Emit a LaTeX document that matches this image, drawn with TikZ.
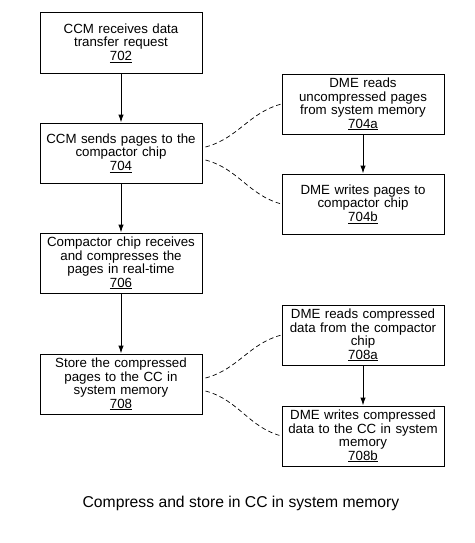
\documentclass[tikz,border=0pt]{standalone}
\usepackage{fontspec}
\setmainfont{Liberation Sans}
\usetikzlibrary{arrows.meta}
\begin{document}
\begin{tikzpicture}[x=1pt, y=-1pt,
    stepbox/.style={draw, line width=1pt, minimum width=162pt, minimum height=60pt,
        text width=160pt, align=center, inner sep=1pt,
        font=\fontsize{13.3}{13.5}\selectfont},
    flow/.style={-{Latex[length=8pt, width=5.5pt]}, line width=1pt},
    link/.style={dashed, line width=0.7pt, dash pattern=on 4.5pt off 3pt}]
            % Frame
            \useasboundingbox (0,0) rectangle (474,543);

            % Main steps
            \node[stepbox] (s702) at (121,43) {CCM receives data\\transfer request\\\underline{702}};
            \node[stepbox] (s704) at (121,153) {CCM sends pages to the\\compactor chip\\\underline{704}};
            \node[stepbox] (s706) at (121,263) {Compactor chip receives\\and compresses the\\pages in real-time\\\underline{706}};
            \node[stepbox] (s708) at (121,384) {Store the compressed\\pages to the CC in\\system memory\\\underline{708}};

            % Sub steps
            \node[stepbox] (s704a) at (363,104) {DME reads\\uncompressed pages\\from system memory\\\underline{704a}};
            \node[stepbox] (s704b) at (363,204) {DME writes pages to\\compactor chip\\\underline{704b}};
            \node[stepbox] (s708a) at (363,335) {DME reads compressed\\data from the compactor\\chip\\\underline{708a}};
            \node[stepbox] (s708b) at (363,436) {DME writes compressed\\data to the CC in system\\memory\\\underline{708b}};

            % Draw arrows
            \draw[flow] (s702) -- (s704);
            \draw[flow] (s704) -- (s706);
            \draw[flow] (s706) -- (s708);
            \draw[flow] (s704a) -- (s704b);
            \draw[flow] (s708a) -- (s708b);

            % Dashed links
            \draw[link] ([xshift=3pt, yshift=6pt]s704.east) to[out=15, in=195] (s704a.west);
            \draw[link] ([xshift=3pt, yshift=-7pt]s704.east) to[out=-15, in=165] (s704b.west);
            \draw[link] ([xshift=3pt, yshift=6pt]s708.east) to[out=15, in=195] (s708a.west);
            \draw[link] ([xshift=3pt, yshift=-7pt]s708.east) to[out=-15, in=165] (s708b.west);

            % Caption
            \node[font=\fontsize{15.7}{17}\selectfont] (title) at (241,503) {Compress and store in CC in system memory};
        \end{tikzpicture}
\end{document}
